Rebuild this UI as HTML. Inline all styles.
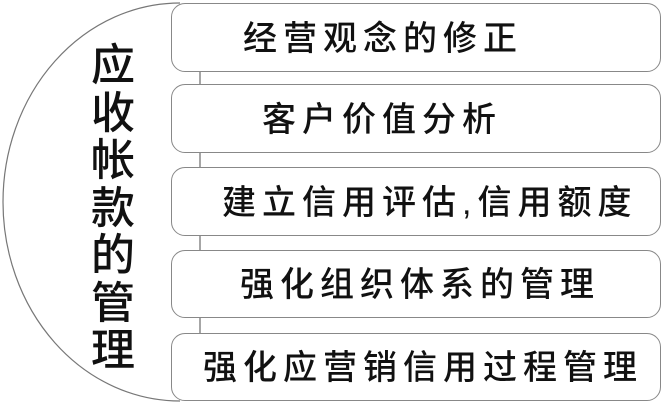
<!DOCTYPE html>
<html><head><meta charset="utf-8"><style>
body{margin:0;width:665px;height:406px;background:#fff;position:relative;overflow:hidden;font-family:"Liberation Sans","Noto Sans CJK SC",sans-serif;color:#111}
.b{position:absolute;left:171px;width:490px;border:1.5px solid #888;border-radius:14px;background:#fff;box-sizing:border-box}
.t{position:absolute;font-size:34px;line-height:1;white-space:nowrap;letter-spacing:6px;font-weight:500}
.v{position:absolute;left:88px;top:42px;width:50px;font-size:44px;line-height:47.5px;text-align:center;font-weight:500}
</style></head><body>
<svg width="665" height="406" style="position:absolute;left:0;top:0">
<path d="M180 3 A177 199 0 0 0 180 401" fill="none" stroke="#777" stroke-width="1.2"/>
<line x1="200" y1="70" x2="200" y2="336" stroke="#888" stroke-width="1.5"/>
</svg>
<div class="b" style="top:3px;height:69px"></div>
<div class="b" style="top:84px;height:69px"></div>
<div class="b" style="top:167px;height:69px"></div>
<div class="b" style="top:250px;height:68px"></div>
<div class="b" style="top:333px;height:68px"></div>
<div class="v">应<br>收<br>帐<br>款<br>的<br>管<br>理</div>
<div class="t" style="left:243px;top:22px">经营观念的修正</div>
<div class="t" style="left:262px;top:103px">客户价值分析</div>
<div class="t" style="left:222px;top:186px;letter-spacing:6px">建立信用评估,信用额度</div>
<div class="t" style="left:240px;top:268px">强化组织体系的管理</div>
<div class="t" style="left:203px;top:351px">强化应营销信用过程管理</div>
</body></html>
